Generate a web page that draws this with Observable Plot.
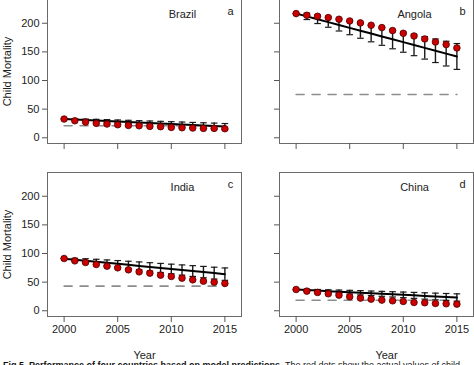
<!DOCTYPE html>
<html>
<head>
<meta charset="utf-8">
<script src="https://cdn.jsdelivr.net/npm/d3@7"></script>
<script src="https://cdn.jsdelivr.net/npm/@observablehq/plot@0.6"></script>
<style>
  body { margin: 0; background: #fff; }
  #wrap { position: relative; width: 474px; height: 365px; overflow: hidden; background: #fff;
          font-family: "Liberation Sans", Arial, sans-serif; }
  #caption { position: absolute; left: 3px; top: 360px; font-size: 9px; line-height: 10px;
             white-space: nowrap; color: #111; }
</style>
</head>
<body>
<div id="wrap">
  <div id="caption"><b>Fig 5. Performance of four countries based on model predictions.</b> The red dots show the actual values of child</div>
</div>
<script>
// ---- data ----
const years = [2000, 2001, 2002, 2003, 2004, 2005, 2006, 2007, 2008, 2009, 2010, 2011, 2012, 2013, 2014, 2015];
const countries = ["Brazil", "Angola", "India", "China"];
const panelLetters = ["a", "b", "c", "d"];
const xTicks = [2000, 2005, 2010, 2015];
const yTicks = [0, 50, 100, 150, 200];

const brazilActual = [32.7, 29.7, 27.4, 25.2, 24.0, 22.8, 21.6, 21.0, 19.9, 19.3, 18.1, 17.5, 17.0, 16.4, 16.4, 15.8];
const brazilModel  = [33.0, 32.1, 31.2, 30.3, 29.4, 28.5, 27.6, 26.7, 25.8, 24.9, 24.0, 23.1, 22.2, 21.3, 20.4, 19.5];
const brazilError  = [0, 1.0, 1.5, 1.9, 2.3, 2.6, 2.9, 3.2, 3.5, 3.8, 4.1, 4.4, 4.6, 4.9, 5.2, 5.4];
const brazilTarget = 21;

const angolaActual = [216.9, 214.0, 212.2, 209.9, 207.0, 204.0, 200.6, 196.5, 192.4, 187.2, 182.5, 177.8, 172.6, 167.3, 162.7, 156.9];
const angolaModel  = [217, 212, 207, 202, 197, 192, 187, 182, 177, 172, 167, 162, 157, 152, 147, 142];
const angolaError  = [0, 5.5, 7.5, 9.0, 10.5, 12.0, 13.2, 14.4, 15.5, 16.6, 17.6, 18.6, 19.6, 20.6, 21.6, 22.6];
const angolaTarget = 75.5;

const indiaActual = [91.3, 87.2, 84.3, 80.8, 77.9, 75.0, 71.5, 68.0, 65.7, 62.2, 59.9, 57.0, 54.0, 51.7, 50.0, 47.7];
const indiaModel  = [91.0, 89.2, 87.4, 85.6, 83.8, 82.0, 80.2, 78.4, 76.6, 74.8, 73.0, 71.2, 69.4, 67.6, 65.8, 64.0];
const indiaError  = [0, 2.5, 3.5, 4.3, 5.0, 5.7, 6.3, 6.9, 7.4, 7.9, 8.4, 8.9, 9.4, 9.9, 10.3, 10.8];
const indiaTarget = 43;

const chinaActual = [37.2, 34.3, 32.0, 29.7, 27.3, 24.4, 22.1, 20.3, 18.6, 17.4, 16.3, 14.5, 14.0, 12.8, 12.2, 11.6];
const chinaModel  = [37.0, 36.1, 35.2, 34.2, 33.3, 32.4, 31.5, 30.5, 29.6, 28.7, 27.8, 26.9, 25.9, 25.0, 24.1, 23.2];
const chinaError  = [0, 1.5, 2.0, 2.5, 2.9, 3.3, 3.7, 4.0, 4.3, 4.6, 4.9, 5.2, 5.5, 5.8, 6.1, 6.4];
const chinaTarget = 18.5;

const actualSeries = [brazilActual, angolaActual, indiaActual, chinaActual];
const modelSeries = [brazilModel, angolaModel, indiaModel, chinaModel];
const errorSeries = [brazilError, angolaError, indiaError, chinaError];
const targets = [brazilTarget, angolaTarget, indiaTarget, chinaTarget];

// ---- drawing ----
const capSymbol = { draw(ctx) { ctx.moveTo(-3.3, 0); ctx.lineTo(3.3, 0); } };
const font = '"Liberation Sans", Arial, sans-serif';

function panel(i) {
  const isLeft = i % 2 === 0;
  const isBottom = i >= 2;
  const table = years.map((year, j) => ({
    year,
    actual: actualSeries[i][j],
    model: modelSeries[i][j],
    lo: modelSeries[i][j] - errorSeries[i][j],
    hi: modelSeries[i][j] + errorSeries[i][j]
  }));
  const targetLine = [
    {year: years[0], v: targets[i]},
    {year: years[years.length - 1], v: targets[i]}
  ];
  const marks = [
    Plot.line(targetLine, {x: "year", y: "v", stroke: "#8c8c8c", strokeWidth: 1.6, strokeDasharray: "8,8"}),
    Plot.ruleX(table, {x: "year", y1: "lo", y2: "hi", stroke: "#1a1a1a", strokeWidth: 1.4}),
    Plot.dot(table, {x: "year", y: "hi", symbol: capSymbol, r: 3, fill: "none", stroke: "#1a1a1a", strokeWidth: 1.2}),
    Plot.dot(table, {x: "year", y: "lo", symbol: capSymbol, r: 3, fill: "none", stroke: "#1a1a1a", strokeWidth: 1.2}),
    Plot.line(table, {x: "year", y: "model", stroke: "#000", strokeWidth: 2}),
    Plot.dot(table, {x: "year", y: "actual", r: 3.3, fill: "#cc0000", stroke: "#4a0000", strokeWidth: 0.8}),
    Plot.frame({stroke: "#6a6a6a", strokeWidth: 1}),
    Plot.axisY(yTicks, {tickSize: 5, tickPadding: 3, stroke: "#555", fill: "#222", fontSize: 11,
      tickFormat: isLeft ? (d) => String(d) : () => "", label: null}),
    Plot.axisX(xTicks, {tickSize: 6, tickPadding: 3, stroke: "#555", fill: "#222", fontSize: 11,
      tickFormat: isBottom ? (d) => String(d) : () => "", label: null}),
    Plot.text([countries[i]], {frameAnchor: "top-right", dx: -59, dy: 14.5, textAnchor: "middle",
      lineAnchor: "middle", fontSize: 11, fill: "#222"}),
    Plot.text([panelLetters[i]], {frameAnchor: "top-right", dx: -11, dy: 11.5, textAnchor: "middle",
      lineAnchor: "middle", fontSize: 11, fill: "#222"})
  ];
  if (isLeft) {
    marks.push(Plot.text(["Child Mortality"], {frameAnchor: "left", dx: -40, rotate: -90,
      textAnchor: "middle", lineAnchor: "middle", fontSize: 11, fill: "#222"}));
  }
  if (isBottom) {
    marks.push(Plot.text(["Year"], {frameAnchor: "bottom", dy: 39, dx: isLeft ? 0 : 10,
      textAnchor: "middle", lineAnchor: "middle", fontSize: 11, fill: "#222"}));
  }
  const width = isLeft ? 245 : 237;
  const height = isBottom ? 190 : 150;
  return Plot.plot({
    width, height,
    marginLeft: isLeft ? 47 : 42,
    marginRight: isLeft ? 4 : 1,
    marginTop: 0,
    marginBottom: height - 144,
    x: {domain: [1998.45, 2016.55]},
    y: {domain: [-10, 241.5]},
    style: {
      position: "absolute",
      left: (isLeft ? 0 : 237) + "px",
      top: (isBottom ? 172 : -1) + "px",
      background: "transparent",
      overflow: "visible",
      fontFamily: font,
      fontSize: "11px",
      color: "#222",
      maxWidth: "none"
    },
    marks
  });
}

const wrap = document.getElementById("wrap");
for (let i = 0; i < 4; i++) wrap.appendChild(panel(i));
</script>
</body>
</html>
